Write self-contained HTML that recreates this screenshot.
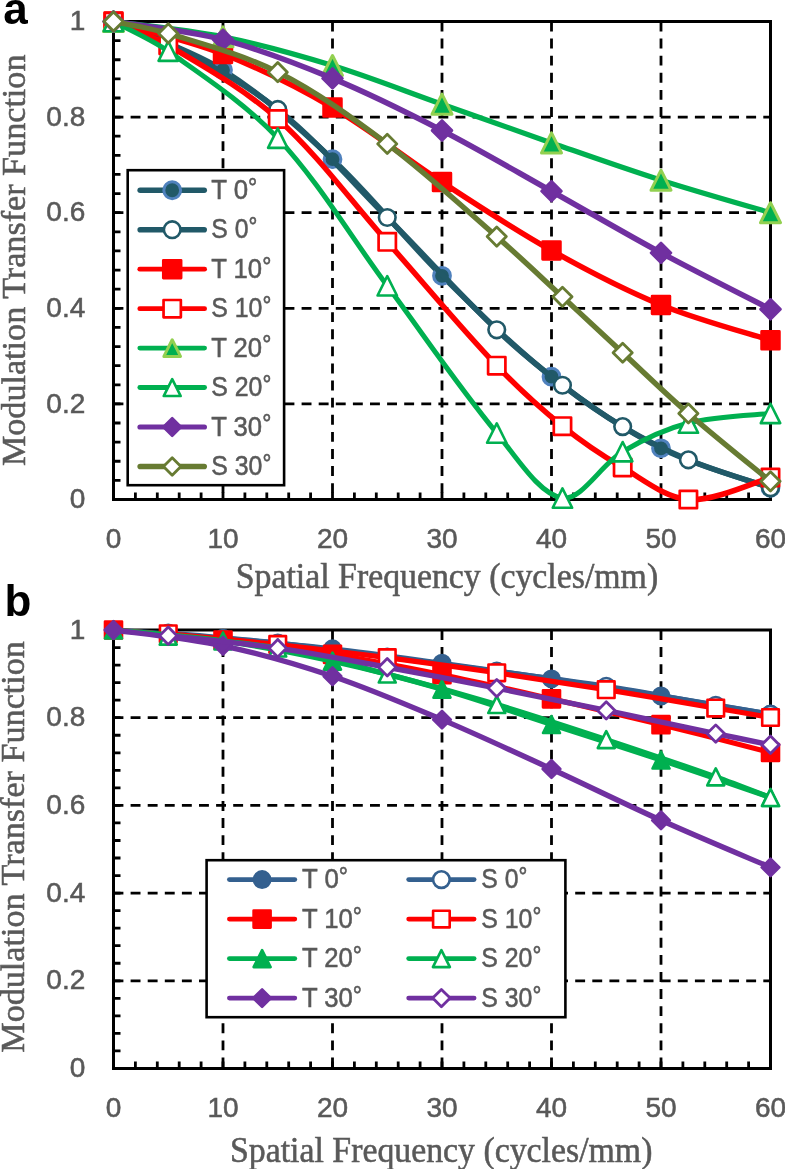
<!DOCTYPE html>
<html lang="en">
<head>
<meta charset="utf-8">
<title>Modulation Transfer Function</title>
<style>
html,body{margin:0;padding:0;background:#fff;}
body{width:785px;height:1169px;overflow:hidden;}
svg{display:block;}
</style>
</head>
<body>
<svg width="785" height="1169" viewBox="0 0 785 1169">
<rect width="785" height="1169" fill="#fff"/>
<g stroke="#000" stroke-width="2.8" stroke-dasharray="9.9 7.2" fill="none"><line x1="223" y1="21.5" x2="223" y2="499.5"/><line x1="332.5" y1="21.5" x2="332.5" y2="499.5"/><line x1="442" y1="21.5" x2="442" y2="499.5"/><line x1="551.5" y1="21.5" x2="551.5" y2="499.5"/><line x1="661" y1="21.5" x2="661" y2="499.5"/><line x1="113.5" y1="403.9" x2="770.5" y2="403.9"/><line x1="113.5" y1="308.3" x2="770.5" y2="308.3"/><line x1="113.5" y1="212.7" x2="770.5" y2="212.7"/><line x1="113.5" y1="117.1" x2="770.5" y2="117.1"/></g>
<path d="M113.5 499.5 v-7M135.4 499.5 v-7M157.3 499.5 v-7M179.2 499.5 v-7M201.1 499.5 v-7M223 499.5 v-7M244.9 499.5 v-7M266.8 499.5 v-7M288.7 499.5 v-7M310.6 499.5 v-7M332.5 499.5 v-7M354.4 499.5 v-7M376.3 499.5 v-7M398.2 499.5 v-7M420.1 499.5 v-7M442 499.5 v-7M463.9 499.5 v-7M485.8 499.5 v-7M507.7 499.5 v-7M529.6 499.5 v-7M551.5 499.5 v-7M573.4 499.5 v-7M595.3 499.5 v-7M617.2 499.5 v-7M639.1 499.5 v-7M661 499.5 v-7M682.9 499.5 v-7M704.8 499.5 v-7M726.7 499.5 v-7M748.6 499.5 v-7M770.5 499.5 v-7M113.5 499.5 h7M113.5 480.38 h7M113.5 461.26 h7M113.5 442.14 h7M113.5 423.02 h7M113.5 403.9 h7M113.5 384.78 h7M113.5 365.66 h7M113.5 346.54 h7M113.5 327.42 h7M113.5 308.3 h7M113.5 289.18 h7M113.5 270.06 h7M113.5 250.94 h7M113.5 231.82 h7M113.5 212.7 h7M113.5 193.58 h7M113.5 174.46 h7M113.5 155.34 h7M113.5 136.22 h7M113.5 117.1 h7M113.5 97.98 h7M113.5 78.86 h7M113.5 59.74 h7M113.5 40.62 h7M113.5 21.5 h7" stroke="#000" stroke-width="2.8" fill="none"/>
<rect x="113.5" y="21.5" width="657" height="478" fill="none" stroke="#000" stroke-width="3"/>
<path d="M113.5 21.5C131.75 29.59 189.5 48.96 223 70.02C262.5 94.85 298.28 127.01 332.5 159.16C371.28 195.6 404.19 238.24 442 275.8C477.19 310.74 512.65 346.05 551.5 376.65C585.65 403.56 622.36 428.75 661 448.35C695.36 465.79 752.25 481.22 770.5 487.79" fill="none" stroke="#215968" stroke-width="5.5" stroke-linecap="round" stroke-linejoin="round"/>
<circle cx="113.5" cy="21.5" r="8.4" fill="#215968" stroke="#4F81BD" stroke-width="3" stroke-linejoin="round"/><circle cx="223" cy="70.02" r="8.4" fill="#215968" stroke="#4F81BD" stroke-width="3" stroke-linejoin="round"/><circle cx="332.5" cy="159.16" r="8.4" fill="#215968" stroke="#4F81BD" stroke-width="3" stroke-linejoin="round"/><circle cx="442" cy="275.8" r="8.4" fill="#215968" stroke="#4F81BD" stroke-width="3" stroke-linejoin="round"/><circle cx="551.5" cy="376.65" r="8.4" fill="#215968" stroke="#4F81BD" stroke-width="3" stroke-linejoin="round"/><circle cx="661" cy="448.35" r="8.4" fill="#215968" stroke="#4F81BD" stroke-width="3" stroke-linejoin="round"/><circle cx="770.5" cy="487.79" r="8.4" fill="#215968" stroke="#4F81BD" stroke-width="3" stroke-linejoin="round"/>
<path d="M113.5 21.5C122.62 25.05 151.05 33.56 168.25 42.77C205.8 62.88 244.56 82.98 277.75 109.45C317.56 141.21 351.11 181.11 387.25 217.48C424.11 254.57 459.02 293.68 496.75 329.81C517.42 349.61 539.76 367.81 562.45 385.26C581.73 400.08 601.77 414.23 622.67 426.61C643.74 439.08 665.76 450.46 688.38 459.83C715.03 470.86 756.81 483.13 770.5 487.79" fill="none" stroke="#215968" stroke-width="5.5" stroke-linecap="round" stroke-linejoin="round"/>
<circle cx="113.5" cy="21.5" r="8.3" fill="#fff" stroke="#215968" stroke-width="2.6" stroke-linejoin="round"/><circle cx="168.25" cy="42.77" r="8.3" fill="#fff" stroke="#215968" stroke-width="2.6" stroke-linejoin="round"/><circle cx="277.75" cy="109.45" r="8.3" fill="#fff" stroke="#215968" stroke-width="2.6" stroke-linejoin="round"/><circle cx="387.25" cy="217.48" r="8.3" fill="#fff" stroke="#215968" stroke-width="2.6" stroke-linejoin="round"/><circle cx="496.75" cy="329.81" r="8.3" fill="#fff" stroke="#215968" stroke-width="2.6" stroke-linejoin="round"/><circle cx="562.45" cy="385.26" r="8.3" fill="#fff" stroke="#215968" stroke-width="2.6" stroke-linejoin="round"/><circle cx="622.67" cy="426.61" r="8.3" fill="#fff" stroke="#215968" stroke-width="2.6" stroke-linejoin="round"/><circle cx="688.38" cy="459.83" r="8.3" fill="#fff" stroke="#215968" stroke-width="2.6" stroke-linejoin="round"/><circle cx="770.5" cy="487.79" r="8.3" fill="#fff" stroke="#215968" stroke-width="2.6" stroke-linejoin="round"/>
<path d="M113.5 21.5C131.75 26.92 187.68 40.13 223 54C260.68 68.81 297.52 87.08 332.5 107.54C370.52 129.78 405.03 157.98 442 182.11C478.03 205.62 514.02 229.44 551.5 250.46C587.02 270.38 623.39 289.52 661 304.95C696.39 319.47 752.25 334.43 770.5 340.33" fill="none" stroke="#FF0000" stroke-width="5.5" stroke-linecap="round" stroke-linejoin="round"/>
<rect x="104.65" y="12.65" width="17.7" height="17.7" fill="#FF0000" stroke="#FF0000" stroke-width="2.8" stroke-linejoin="round"/><rect x="214.15" y="45.15" width="17.7" height="17.7" fill="#FF0000" stroke="#FF0000" stroke-width="2.8" stroke-linejoin="round"/><rect x="323.65" y="98.69" width="17.7" height="17.7" fill="#FF0000" stroke="#FF0000" stroke-width="2.8" stroke-linejoin="round"/><rect x="433.15" y="173.26" width="17.7" height="17.7" fill="#FF0000" stroke="#FF0000" stroke-width="2.8" stroke-linejoin="round"/><rect x="542.65" y="241.61" width="17.7" height="17.7" fill="#FF0000" stroke="#FF0000" stroke-width="2.8" stroke-linejoin="round"/><rect x="652.15" y="296.1" width="17.7" height="17.7" fill="#FF0000" stroke="#FF0000" stroke-width="2.8" stroke-linejoin="round"/><rect x="761.65" y="331.48" width="17.7" height="17.7" fill="#FF0000" stroke="#FF0000" stroke-width="2.8" stroke-linejoin="round"/>
<path d="M113.5 21.5C122.62 25.48 151.19 35.27 168.25 45.4C205.94 67.77 245.27 89.87 277.75 119.01C318.27 155.36 350.83 200.84 387.25 241.86C423.83 283.06 458.83 325.78 496.75 365.66C517.23 387.2 539.36 407.46 562.45 426.13C581.34 441.4 601.69 455.25 622.67 467.47C643.67 479.71 665.6 497.95 688.38 499.5C714.87 501.3 756.81 481.18 770.5 477.51" fill="none" stroke="#FF0000" stroke-width="5.5" stroke-linecap="round" stroke-linejoin="round"/>
<rect x="104.85" y="12.85" width="17.3" height="17.3" fill="#fff" stroke="#FF0000" stroke-width="2.7" stroke-linejoin="round"/><rect x="159.6" y="36.75" width="17.3" height="17.3" fill="#fff" stroke="#FF0000" stroke-width="2.7" stroke-linejoin="round"/><rect x="269.1" y="110.36" width="17.3" height="17.3" fill="#fff" stroke="#FF0000" stroke-width="2.7" stroke-linejoin="round"/><rect x="378.6" y="233.21" width="17.3" height="17.3" fill="#fff" stroke="#FF0000" stroke-width="2.7" stroke-linejoin="round"/><rect x="488.1" y="357.01" width="17.3" height="17.3" fill="#fff" stroke="#FF0000" stroke-width="2.7" stroke-linejoin="round"/><rect x="553.8" y="417.48" width="17.3" height="17.3" fill="#fff" stroke="#FF0000" stroke-width="2.7" stroke-linejoin="round"/><rect x="614.02" y="458.82" width="17.3" height="17.3" fill="#fff" stroke="#FF0000" stroke-width="2.7" stroke-linejoin="round"/><rect x="679.73" y="490.85" width="17.3" height="17.3" fill="#fff" stroke="#FF0000" stroke-width="2.7" stroke-linejoin="round"/><rect x="761.85" y="468.86" width="17.3" height="17.3" fill="#fff" stroke="#FF0000" stroke-width="2.7" stroke-linejoin="round"/>
<path d="M113.5 21.5C131.75 24.05 186.93 29.55 223 36.8C259.93 44.21 296.47 54.39 332.5 65.48C369.47 76.85 405.5 91.29 442 104.19C478.5 117.1 514.93 130.22 551.5 142.91C587.93 155.55 624.27 168.49 661 180.2C697.27 191.75 752.25 207.28 770.5 212.7" fill="none" stroke="#00B050" stroke-width="5.3" stroke-linecap="round" stroke-linejoin="round"/>
<path d="M113.5 11.5 L123.5 31.5 L103.5 31.5 Z" fill="#00B050" stroke="#92D050" stroke-width="3" stroke-linejoin="round"/><path d="M223 26.8 L233 46.8 L213 46.8 Z" fill="#00B050" stroke="#92D050" stroke-width="3" stroke-linejoin="round"/><path d="M332.5 55.48 L342.5 75.48 L322.5 75.48 Z" fill="#00B050" stroke="#92D050" stroke-width="3" stroke-linejoin="round"/><path d="M442 94.19 L452 114.19 L432 114.19 Z" fill="#00B050" stroke="#92D050" stroke-width="3" stroke-linejoin="round"/><path d="M551.5 132.91 L561.5 152.91 L541.5 152.91 Z" fill="#00B050" stroke="#92D050" stroke-width="3" stroke-linejoin="round"/><path d="M661 170.2 L671 190.2 L651 190.2 Z" fill="#00B050" stroke="#92D050" stroke-width="3" stroke-linejoin="round"/><path d="M770.5 202.7 L780.5 222.7 L760.5 222.7 Z" fill="#00B050" stroke="#92D050" stroke-width="3" stroke-linejoin="round"/>
<path d="M113.5 21.5C122.62 26.44 151.39 39.16 168.25 51.14C206.14 78.04 246.21 104.33 277.75 138.13C319.21 182.57 350.71 236.63 387.25 285.83C423.71 334.94 457.91 386.01 496.75 433.06C516.31 456.76 539.42 494.66 562.45 498.07C581.39 500.87 601.07 464.57 622.67 451.7C643.05 439.56 665.49 428.94 688.38 423.02C714.77 416.19 756.81 415.05 770.5 413.46" fill="none" stroke="#00B050" stroke-width="5" stroke-linecap="round" stroke-linejoin="round"/>
<path d="M113.5 11.8 L123.2 31.2 L103.8 31.2 Z" fill="#fff" stroke="#00B050" stroke-width="2.6" stroke-linejoin="round"/><path d="M168.25 41.44 L177.95 60.84 L158.55 60.84 Z" fill="#fff" stroke="#00B050" stroke-width="2.6" stroke-linejoin="round"/><path d="M277.75 128.43 L287.45 147.83 L268.05 147.83 Z" fill="#fff" stroke="#00B050" stroke-width="2.6" stroke-linejoin="round"/><path d="M387.25 276.13 L396.95 295.53 L377.55 295.53 Z" fill="#fff" stroke="#00B050" stroke-width="2.6" stroke-linejoin="round"/><path d="M496.75 423.36 L506.45 442.76 L487.05 442.76 Z" fill="#fff" stroke="#00B050" stroke-width="2.6" stroke-linejoin="round"/><path d="M562.45 488.37 L572.15 507.77 L552.75 507.77 Z" fill="#fff" stroke="#00B050" stroke-width="2.6" stroke-linejoin="round"/><path d="M622.67 442 L632.38 461.4 L612.97 461.4 Z" fill="#fff" stroke="#00B050" stroke-width="2.6" stroke-linejoin="round"/><path d="M688.38 413.32 L698.08 432.72 L678.67 432.72 Z" fill="#fff" stroke="#00B050" stroke-width="2.6" stroke-linejoin="round"/><path d="M770.5 403.76 L780.2 423.16 L760.8 423.16 Z" fill="#fff" stroke="#00B050" stroke-width="2.6" stroke-linejoin="round"/>
<path d="M113.5 21.5C131.75 24.53 187.33 30.4 223 39.66C260.33 49.36 296.79 63.57 332.5 78.38C369.79 93.85 406.08 111.98 442 130.48C479.08 149.59 515.07 170.83 551.5 191.19C588.07 211.62 624.13 232.98 661 252.85C697.13 272.33 752.25 299.86 770.5 309.26" fill="none" stroke="#7030A0" stroke-width="5.6" stroke-linecap="round" stroke-linejoin="round"/>
<path d="M113.5 11.5 L123.5 21.5 L113.5 31.5 L103.5 21.5 Z" fill="#7030A0" stroke="#7030A0" stroke-width="2.6" stroke-linejoin="round"/><path d="M223 29.66 L233 39.66 L223 49.66 L213 39.66 Z" fill="#7030A0" stroke="#7030A0" stroke-width="2.6" stroke-linejoin="round"/><path d="M332.5 68.38 L342.5 78.38 L332.5 88.38 L322.5 78.38 Z" fill="#7030A0" stroke="#7030A0" stroke-width="2.6" stroke-linejoin="round"/><path d="M442 120.48 L452 130.48 L442 140.48 L432 130.48 Z" fill="#7030A0" stroke="#7030A0" stroke-width="2.6" stroke-linejoin="round"/><path d="M551.5 181.19 L561.5 191.19 L551.5 201.19 L541.5 191.19 Z" fill="#7030A0" stroke="#7030A0" stroke-width="2.6" stroke-linejoin="round"/><path d="M661 242.85 L671 252.85 L661 262.85 L651 252.85 Z" fill="#7030A0" stroke="#7030A0" stroke-width="2.6" stroke-linejoin="round"/><path d="M770.5 299.26 L780.5 309.26 L770.5 319.26 L760.5 309.26 Z" fill="#7030A0" stroke="#7030A0" stroke-width="2.6" stroke-linejoin="round"/>
<path d="M113.5 21.5C122.62 23.49 150.43 27.95 168.25 33.45C205.18 44.84 243.43 54.86 277.75 72.17C316.43 91.67 352.43 117.72 387.25 143.87C425.43 172.53 460.73 205.15 496.75 236.6C519.13 256.14 540.61 276.68 562.45 296.83C582.59 315.4 602.58 334.14 622.67 352.75C644.55 373.02 665.89 393.9 688.38 413.46C715.16 436.76 756.81 470.02 770.5 481.34" fill="none" stroke="#677B32" stroke-width="5.4" stroke-linecap="round" stroke-linejoin="round"/>
<path d="M113.5 11.9 L123.1 21.5 L113.5 31.1 L103.9 21.5 Z" fill="#fff" stroke="#677B32" stroke-width="2.8" stroke-linejoin="round"/><path d="M168.25 23.85 L177.85 33.45 L168.25 43.05 L158.65 33.45 Z" fill="#fff" stroke="#677B32" stroke-width="2.8" stroke-linejoin="round"/><path d="M277.75 62.57 L287.35 72.17 L277.75 81.77 L268.15 72.17 Z" fill="#fff" stroke="#677B32" stroke-width="2.8" stroke-linejoin="round"/><path d="M387.25 134.27 L396.85 143.87 L387.25 153.47 L377.65 143.87 Z" fill="#fff" stroke="#677B32" stroke-width="2.8" stroke-linejoin="round"/><path d="M496.75 227 L506.35 236.6 L496.75 246.2 L487.15 236.6 Z" fill="#fff" stroke="#677B32" stroke-width="2.8" stroke-linejoin="round"/><path d="M562.45 287.23 L572.05 296.83 L562.45 306.43 L552.85 296.83 Z" fill="#fff" stroke="#677B32" stroke-width="2.8" stroke-linejoin="round"/><path d="M622.67 343.15 L632.27 352.75 L622.67 362.35 L613.07 352.75 Z" fill="#fff" stroke="#677B32" stroke-width="2.8" stroke-linejoin="round"/><path d="M688.38 403.86 L697.98 413.46 L688.38 423.06 L678.77 413.46 Z" fill="#fff" stroke="#677B32" stroke-width="2.8" stroke-linejoin="round"/><path d="M770.5 471.74 L780.1 481.34 L770.5 490.94 L760.9 481.34 Z" fill="#fff" stroke="#677B32" stroke-width="2.8" stroke-linejoin="round"/>
<rect x="127.7" y="170.2" width="156.4" height="315" fill="#fff" stroke="#000" stroke-width="2.6"/>
<path d="M140.2 190.25 H204.2" stroke="#215968" stroke-width="5.6" stroke-linecap="round" fill="none"/>
<circle cx="172.2" cy="190.25" r="8.4" fill="#215968" stroke="#4F81BD" stroke-width="3" stroke-linejoin="round"/>
<text x="211.3" y="198.85" font-family="'Liberation Sans', Arial, sans-serif" font-size="28" fill="#595959" stroke="#595959" stroke-width="0.55" textLength="46" lengthAdjust="spacingAndGlyphs">T 0<tspan dy="-3.2" font-size="25">°</tspan></text>
<path d="M140.2 229.71 H204.2" stroke="#215968" stroke-width="5.6" stroke-linecap="round" fill="none"/>
<circle cx="172.2" cy="229.71" r="8.3" fill="#fff" stroke="#215968" stroke-width="2.6" stroke-linejoin="round"/>
<text x="211.3" y="238.31" font-family="'Liberation Sans', Arial, sans-serif" font-size="28" fill="#595959" stroke="#595959" stroke-width="0.55" textLength="46" lengthAdjust="spacingAndGlyphs">S 0<tspan dy="-3.2" font-size="25">°</tspan></text>
<path d="M139.75 269.17 H204.65" stroke="#FF0000" stroke-width="4.7" stroke-linecap="round" fill="none"/>
<rect x="163.35" y="260.32" width="17.7" height="17.7" fill="#FF0000" stroke="#FF0000" stroke-width="2.8" stroke-linejoin="round"/>
<text x="211.3" y="277.77" font-family="'Liberation Sans', Arial, sans-serif" font-size="28" fill="#595959" stroke="#595959" stroke-width="0.55" textLength="60" lengthAdjust="spacingAndGlyphs">T 10<tspan dy="-3.2" font-size="25">°</tspan></text>
<path d="M139.75 308.63 H204.65" stroke="#FF0000" stroke-width="4.7" stroke-linecap="round" fill="none"/>
<rect x="163.55" y="299.98" width="17.3" height="17.3" fill="#fff" stroke="#FF0000" stroke-width="2.7" stroke-linejoin="round"/>
<text x="211.3" y="317.23" font-family="'Liberation Sans', Arial, sans-serif" font-size="28" fill="#595959" stroke="#595959" stroke-width="0.55" textLength="60" lengthAdjust="spacingAndGlyphs">S 10<tspan dy="-3.2" font-size="25">°</tspan></text>
<path d="M139.85 348.09 H204.55" stroke="#00B050" stroke-width="4.9" stroke-linecap="round" fill="none"/>
<path d="M172.2 339.79 L180.5 356.39 L163.9 356.39 Z" fill="#00B050" stroke="#92D050" stroke-width="3" stroke-linejoin="round"/>
<text x="211.3" y="356.69" font-family="'Liberation Sans', Arial, sans-serif" font-size="28" fill="#595959" stroke="#595959" stroke-width="0.55" textLength="60" lengthAdjust="spacingAndGlyphs">T 20<tspan dy="-3.2" font-size="25">°</tspan></text>
<path d="M139.85 387.55 H204.55" stroke="#00B050" stroke-width="4.9" stroke-linecap="round" fill="none"/>
<path d="M172.2 379.05 L180.7 396.05 L163.7 396.05 Z" fill="#fff" stroke="#00B050" stroke-width="2.6" stroke-linejoin="round"/>
<text x="211.3" y="396.15" font-family="'Liberation Sans', Arial, sans-serif" font-size="28" fill="#595959" stroke="#595959" stroke-width="0.55" textLength="60" lengthAdjust="spacingAndGlyphs">S 20<tspan dy="-3.2" font-size="25">°</tspan></text>
<path d="M140 427.01 H204.4" stroke="#7030A0" stroke-width="5.2" stroke-linecap="round" fill="none"/>
<path d="M172.2 418.21 L181 427.01 L172.2 435.81 L163.4 427.01 Z" fill="#7030A0" stroke="#7030A0" stroke-width="2.6" stroke-linejoin="round"/>
<text x="211.3" y="435.61" font-family="'Liberation Sans', Arial, sans-serif" font-size="28" fill="#595959" stroke="#595959" stroke-width="0.55" textLength="60" lengthAdjust="spacingAndGlyphs">T 30<tspan dy="-3.2" font-size="25">°</tspan></text>
<path d="M140.2 466.47 H204.2" stroke="#677B32" stroke-width="5.6" stroke-linecap="round" fill="none"/>
<path d="M172.2 457.77 L180.9 466.47 L172.2 475.17 L163.5 466.47 Z" fill="#fff" stroke="#677B32" stroke-width="2.8" stroke-linejoin="round"/>
<text x="211.3" y="475.07" font-family="'Liberation Sans', Arial, sans-serif" font-size="28" fill="#595959" stroke="#595959" stroke-width="0.55" textLength="60" lengthAdjust="spacingAndGlyphs">S 30<tspan dy="-3.2" font-size="25">°</tspan></text>
<g font-family="'Liberation Sans', Arial, sans-serif" font-size="28" fill="#595959" stroke="#595959" stroke-width="0.55"><text x="113.5" y="547.5" text-anchor="middle">0</text><text x="223" y="547.5" text-anchor="middle">10</text><text x="332.5" y="547.5" text-anchor="middle">20</text><text x="442" y="547.5" text-anchor="middle">30</text><text x="551.5" y="547.5" text-anchor="middle">40</text><text x="661" y="547.5" text-anchor="middle">50</text><text x="770.5" y="547.5" text-anchor="middle">60</text><text x="85.3" y="508.1" text-anchor="end">0</text><text x="85.3" y="412.5" text-anchor="end">0.2</text><text x="85.3" y="316.9" text-anchor="end">0.4</text><text x="85.3" y="221.3" text-anchor="end">0.6</text><text x="85.3" y="125.7" text-anchor="end">0.8</text><text x="85.3" y="30.1" text-anchor="end">1</text></g>
<text x="446.95" y="588.3" text-anchor="middle" font-family="'Liberation Serif', 'Times New Roman', serif" font-size="35.2" fill="#595959" stroke="#595959" stroke-width="0.55" textLength="422.4" lengthAdjust="spacingAndGlyphs">Spatial Frequency (cycles/mm)</text>
<text transform="translate(25.1 260.3) rotate(-90)" text-anchor="middle" font-family="'Liberation Serif', 'Times New Roman', serif" font-size="34.6" fill="#595959" stroke="#595959" stroke-width="0.55" textLength="411.6" lengthAdjust="spacingAndGlyphs">Modulation Transfer Function</text>
<g stroke="#000" stroke-width="2.8" stroke-dasharray="9.9 7.2" fill="none"><line x1="223" y1="630" x2="223" y2="1068.5"/><line x1="332.5" y1="630" x2="332.5" y2="1068.5"/><line x1="442" y1="630" x2="442" y2="1068.5"/><line x1="551.5" y1="630" x2="551.5" y2="1068.5"/><line x1="661" y1="630" x2="661" y2="1068.5"/><line x1="113.5" y1="980.8" x2="770.5" y2="980.8"/><line x1="113.5" y1="893.1" x2="770.5" y2="893.1"/><line x1="113.5" y1="805.4" x2="770.5" y2="805.4"/><line x1="113.5" y1="717.7" x2="770.5" y2="717.7"/></g>
<path d="M113.5 1068.5 v-7M135.4 1068.5 v-7M157.3 1068.5 v-7M179.2 1068.5 v-7M201.1 1068.5 v-7M223 1068.5 v-7M244.9 1068.5 v-7M266.8 1068.5 v-7M288.7 1068.5 v-7M310.6 1068.5 v-7M332.5 1068.5 v-7M354.4 1068.5 v-7M376.3 1068.5 v-7M398.2 1068.5 v-7M420.1 1068.5 v-7M442 1068.5 v-7M463.9 1068.5 v-7M485.8 1068.5 v-7M507.7 1068.5 v-7M529.6 1068.5 v-7M551.5 1068.5 v-7M573.4 1068.5 v-7M595.3 1068.5 v-7M617.2 1068.5 v-7M639.1 1068.5 v-7M661 1068.5 v-7M682.9 1068.5 v-7M704.8 1068.5 v-7M726.7 1068.5 v-7M748.6 1068.5 v-7M770.5 1068.5 v-7M113.5 1068.5 h7M113.5 1050.96 h7M113.5 1033.42 h7M113.5 1015.88 h7M113.5 998.34 h7M113.5 980.8 h7M113.5 963.26 h7M113.5 945.72 h7M113.5 928.18 h7M113.5 910.64 h7M113.5 893.1 h7M113.5 875.56 h7M113.5 858.02 h7M113.5 840.48 h7M113.5 822.94 h7M113.5 805.4 h7M113.5 787.86 h7M113.5 770.32 h7M113.5 752.78 h7M113.5 735.24 h7M113.5 717.7 h7M113.5 700.16 h7M113.5 682.62 h7M113.5 665.08 h7M113.5 647.54 h7M113.5 630 h7" stroke="#000" stroke-width="2.8" fill="none"/>
<rect x="113.5" y="630" width="657" height="438.5" fill="none" stroke="#000" stroke-width="3"/>
<path d="M113.5 630C131.75 631.39 186.53 635.19 223 638.33C259.53 641.48 296.07 644.7 332.5 648.86C369.07 653.03 405.52 658.32 442 663.33C478.52 668.34 515.04 673.47 551.5 678.89C588.04 684.33 624.53 690.03 661 695.91C697.53 701.8 752.25 711.14 770.5 714.19" fill="none" stroke="#34608F" stroke-width="5.2" stroke-linecap="round" stroke-linejoin="round"/>
<circle cx="113.5" cy="630" r="8.5" fill="#34608F" stroke="#34608F" stroke-width="2" stroke-linejoin="round"/><circle cx="223" cy="638.33" r="8.5" fill="#34608F" stroke="#34608F" stroke-width="2" stroke-linejoin="round"/><circle cx="332.5" cy="648.86" r="8.5" fill="#34608F" stroke="#34608F" stroke-width="2" stroke-linejoin="round"/><circle cx="442" cy="663.33" r="8.5" fill="#34608F" stroke="#34608F" stroke-width="2" stroke-linejoin="round"/><circle cx="551.5" cy="678.89" r="8.5" fill="#34608F" stroke="#34608F" stroke-width="2" stroke-linejoin="round"/><circle cx="661" cy="695.91" r="8.5" fill="#34608F" stroke="#34608F" stroke-width="2" stroke-linejoin="round"/><circle cx="770.5" cy="714.19" r="8.5" fill="#34608F" stroke="#34608F" stroke-width="2" stroke-linejoin="round"/>
<path d="M168.25 633.07C186.5 634.75 241.32 639.14 277.75 643.15C314.32 647.18 350.75 652.51 387.25 657.19C423.75 661.86 460.27 666.36 496.75 671.22C533.27 676.08 569.85 680.68 606.25 686.35C642.85 692.04 679.23 699.1 715.75 705.29C733.98 708.38 761.38 712.71 770.5 714.19" fill="none" stroke="#34608F" stroke-width="5.2" stroke-linecap="round" stroke-linejoin="round"/>
<circle cx="168.25" cy="633.07" r="8.3" fill="#fff" stroke="#34608F" stroke-width="2.6" stroke-linejoin="round"/><circle cx="277.75" cy="643.15" r="8.3" fill="#fff" stroke="#34608F" stroke-width="2.6" stroke-linejoin="round"/><circle cx="387.25" cy="657.19" r="8.3" fill="#fff" stroke="#34608F" stroke-width="2.6" stroke-linejoin="round"/><circle cx="496.75" cy="671.22" r="8.3" fill="#fff" stroke="#34608F" stroke-width="2.6" stroke-linejoin="round"/><circle cx="606.25" cy="686.35" r="8.3" fill="#fff" stroke="#34608F" stroke-width="2.6" stroke-linejoin="round"/><circle cx="715.75" cy="705.29" r="8.3" fill="#fff" stroke="#34608F" stroke-width="2.6" stroke-linejoin="round"/><circle cx="770.5" cy="714.19" r="8.3" fill="#fff" stroke="#34608F" stroke-width="2.6" stroke-linejoin="round"/>
<path d="M113.5 630C131.75 631.68 186.58 636.04 223 640.09C259.58 644.15 296.16 648.59 332.5 654.34C369.16 660.14 405.62 667.33 442 674.73C478.62 682.17 515.06 690.54 551.5 698.84C588.06 707.18 624.58 715.7 661 724.63C697.58 733.59 752.25 747.87 770.5 752.52" fill="none" stroke="#FF0000" stroke-width="5.2" stroke-linecap="round" stroke-linejoin="round"/>
<rect x="105" y="621.5" width="17" height="17" fill="#FF0000" stroke="#FF0000" stroke-width="2.6" stroke-linejoin="round"/><rect x="214.5" y="631.59" width="17" height="17" fill="#FF0000" stroke="#FF0000" stroke-width="2.6" stroke-linejoin="round"/><rect x="324" y="645.84" width="17" height="17" fill="#FF0000" stroke="#FF0000" stroke-width="2.6" stroke-linejoin="round"/><rect x="433.5" y="666.23" width="17" height="17" fill="#FF0000" stroke="#FF0000" stroke-width="2.6" stroke-linejoin="round"/><rect x="543" y="690.34" width="17" height="17" fill="#FF0000" stroke="#FF0000" stroke-width="2.6" stroke-linejoin="round"/><rect x="652.5" y="716.13" width="17" height="17" fill="#FF0000" stroke="#FF0000" stroke-width="2.6" stroke-linejoin="round"/><rect x="762" y="744.02" width="17" height="17" fill="#FF0000" stroke="#FF0000" stroke-width="2.6" stroke-linejoin="round"/>
<path d="M168.25 633.73C186.5 635.52 241.29 640.49 277.75 644.47C314.29 648.46 350.79 652.91 387.25 657.63C423.79 662.35 460.29 667.47 496.75 672.8C533.29 678.14 569.79 683.76 606.25 689.64C642.79 695.53 679.26 701.91 715.75 708.1C734.01 711.19 761.38 715.92 770.5 717.48" fill="none" stroke="#FF0000" stroke-width="5.2" stroke-linecap="round" stroke-linejoin="round"/>
<rect x="159.95" y="625.43" width="16.6" height="16.6" fill="#fff" stroke="#FF0000" stroke-width="2.6" stroke-linejoin="round"/><rect x="269.45" y="636.17" width="16.6" height="16.6" fill="#fff" stroke="#FF0000" stroke-width="2.6" stroke-linejoin="round"/><rect x="378.95" y="649.33" width="16.6" height="16.6" fill="#fff" stroke="#FF0000" stroke-width="2.6" stroke-linejoin="round"/><rect x="488.45" y="664.5" width="16.6" height="16.6" fill="#fff" stroke="#FF0000" stroke-width="2.6" stroke-linejoin="round"/><rect x="597.95" y="681.34" width="16.6" height="16.6" fill="#fff" stroke="#FF0000" stroke-width="2.6" stroke-linejoin="round"/><rect x="707.45" y="699.8" width="16.6" height="16.6" fill="#fff" stroke="#FF0000" stroke-width="2.6" stroke-linejoin="round"/><rect x="762.2" y="709.18" width="16.6" height="16.6" fill="#fff" stroke="#FF0000" stroke-width="2.6" stroke-linejoin="round"/>
<path d="M113.5 630C131.75 631.83 186.71 635.8 223 640.96C259.71 646.18 296.28 653.16 332.5 661.13C369.28 669.23 405.82 678.73 442 689.2C478.82 699.85 515.01 712.7 551.5 724.5C588.01 736.3 624.6 747.88 661 760.02C697.6 772.22 752.25 791.26 770.5 797.51" fill="none" stroke="#00B050" stroke-width="5.2" stroke-linecap="round" stroke-linejoin="round"/>
<path d="M113.5 621.5 L122 638.5 L105 638.5 Z" fill="#00B050" stroke="#00B050" stroke-width="2.6" stroke-linejoin="round"/><path d="M223 632.46 L231.5 649.46 L214.5 649.46 Z" fill="#00B050" stroke="#00B050" stroke-width="2.6" stroke-linejoin="round"/><path d="M332.5 652.63 L341 669.63 L324 669.63 Z" fill="#00B050" stroke="#00B050" stroke-width="2.6" stroke-linejoin="round"/><path d="M442 680.7 L450.5 697.7 L433.5 697.7 Z" fill="#00B050" stroke="#00B050" stroke-width="2.6" stroke-linejoin="round"/><path d="M551.5 716 L560 733 L543 733 Z" fill="#00B050" stroke="#00B050" stroke-width="2.6" stroke-linejoin="round"/><path d="M661 751.52 L669.5 768.52 L652.5 768.52 Z" fill="#00B050" stroke="#00B050" stroke-width="2.6" stroke-linejoin="round"/><path d="M770.5 789.01 L779 806.01 L762 806.01 Z" fill="#00B050" stroke="#00B050" stroke-width="2.6" stroke-linejoin="round"/>
<path d="M168.25 636.14C186.5 638.11 241.65 641.73 277.75 647.98C314.65 654.37 350.93 664.69 387.25 674.07C423.93 683.54 460.46 693.68 496.75 704.55C533.46 715.53 569.86 727.6 606.25 739.62C642.86 751.72 679.39 764.08 715.75 776.9C734.14 783.38 761.38 794.07 770.5 797.51" fill="none" stroke="#00B050" stroke-width="5.2" stroke-linecap="round" stroke-linejoin="round"/>
<path d="M168.25 627.64 L176.75 644.64 L159.75 644.64 Z" fill="#fff" stroke="#00B050" stroke-width="2.6" stroke-linejoin="round"/><path d="M277.75 639.48 L286.25 656.48 L269.25 656.48 Z" fill="#fff" stroke="#00B050" stroke-width="2.6" stroke-linejoin="round"/><path d="M387.25 665.57 L395.75 682.57 L378.75 682.57 Z" fill="#fff" stroke="#00B050" stroke-width="2.6" stroke-linejoin="round"/><path d="M496.75 696.05 L505.25 713.05 L488.25 713.05 Z" fill="#fff" stroke="#00B050" stroke-width="2.6" stroke-linejoin="round"/><path d="M606.25 731.12 L614.75 748.12 L597.75 748.12 Z" fill="#fff" stroke="#00B050" stroke-width="2.6" stroke-linejoin="round"/><path d="M715.75 768.4 L724.25 785.4 L707.25 785.4 Z" fill="#fff" stroke="#00B050" stroke-width="2.6" stroke-linejoin="round"/><path d="M770.5 789.01 L779 806.01 L762 806.01 Z" fill="#fff" stroke="#00B050" stroke-width="2.6" stroke-linejoin="round"/>
<path d="M113.5 630C131.75 632.63 186.99 638.19 223 645.79C259.99 653.59 296.65 664.13 332.5 676.22C369.65 688.75 405.86 704.32 442 719.63C478.86 735.25 515.12 752.28 551.5 769C588.12 785.84 624.24 803.79 661 820.31C697.24 836.59 752.25 859.55 770.5 867.4" fill="none" stroke="#7030A0" stroke-width="5.4" stroke-linecap="round" stroke-linejoin="round"/>
<path d="M113.5 621.2 L122.3 630 L113.5 638.8 L104.7 630 Z" fill="#7030A0" stroke="#7030A0" stroke-width="2.6" stroke-linejoin="round"/><path d="M223 636.99 L231.8 645.79 L223 654.59 L214.2 645.79 Z" fill="#7030A0" stroke="#7030A0" stroke-width="2.6" stroke-linejoin="round"/><path d="M332.5 667.42 L341.3 676.22 L332.5 685.02 L323.7 676.22 Z" fill="#7030A0" stroke="#7030A0" stroke-width="2.6" stroke-linejoin="round"/><path d="M442 710.83 L450.8 719.63 L442 728.43 L433.2 719.63 Z" fill="#7030A0" stroke="#7030A0" stroke-width="2.6" stroke-linejoin="round"/><path d="M551.5 760.2 L560.3 769 L551.5 777.8 L542.7 769 Z" fill="#7030A0" stroke="#7030A0" stroke-width="2.6" stroke-linejoin="round"/><path d="M661 811.51 L669.8 820.31 L661 829.11 L652.2 820.31 Z" fill="#7030A0" stroke="#7030A0" stroke-width="2.6" stroke-linejoin="round"/><path d="M770.5 858.6 L779.3 867.4 L770.5 876.2 L761.7 867.4 Z" fill="#7030A0" stroke="#7030A0" stroke-width="2.6" stroke-linejoin="round"/>
<path d="M168.25 635.7C186.5 637.78 241.4 642.96 277.75 648.2C314.4 653.48 350.8 660.63 387.25 667.27C423.8 673.93 460.3 680.92 496.75 688.1C533.3 695.3 569.78 702.85 606.25 710.42C642.78 718.01 679.23 725.93 715.75 733.57C733.98 737.39 761.38 742.93 770.5 744.8" fill="none" stroke="#7030A0" stroke-width="5.4" stroke-linecap="round" stroke-linejoin="round"/>
<path d="M168.25 627 L176.95 635.7 L168.25 644.4 L159.55 635.7 Z" fill="#fff" stroke="#7030A0" stroke-width="2.8" stroke-linejoin="round"/><path d="M277.75 639.5 L286.45 648.2 L277.75 656.9 L269.05 648.2 Z" fill="#fff" stroke="#7030A0" stroke-width="2.8" stroke-linejoin="round"/><path d="M387.25 658.57 L395.95 667.27 L387.25 675.97 L378.55 667.27 Z" fill="#fff" stroke="#7030A0" stroke-width="2.8" stroke-linejoin="round"/><path d="M496.75 679.4 L505.45 688.1 L496.75 696.8 L488.05 688.1 Z" fill="#fff" stroke="#7030A0" stroke-width="2.8" stroke-linejoin="round"/><path d="M606.25 701.72 L614.95 710.42 L606.25 719.12 L597.55 710.42 Z" fill="#fff" stroke="#7030A0" stroke-width="2.8" stroke-linejoin="round"/><path d="M715.75 724.87 L724.45 733.57 L715.75 742.27 L707.05 733.57 Z" fill="#fff" stroke="#7030A0" stroke-width="2.8" stroke-linejoin="round"/><path d="M770.5 736.1 L779.2 744.8 L770.5 753.5 L761.8 744.8 Z" fill="#fff" stroke="#7030A0" stroke-width="2.8" stroke-linejoin="round"/>
<rect x="206.6" y="860.2" width="358.8" height="157" fill="#fff" stroke="#000" stroke-width="2.6"/>
<path d="M229.45 879.6 H294.75" stroke="#34608F" stroke-width="4.9" stroke-linecap="round" fill="none"/>
<circle cx="262.1" cy="879.6" r="8.5" fill="#34608F" stroke="#34608F" stroke-width="2" stroke-linejoin="round"/>
<text x="302" y="888.2" font-family="'Liberation Sans', Arial, sans-serif" font-size="28" fill="#595959" stroke="#595959" stroke-width="0.55" textLength="46" lengthAdjust="spacingAndGlyphs">T 0<tspan dy="-3.2" font-size="25">°</tspan></text>
<path d="M408.75 879.6 H474.05" stroke="#34608F" stroke-width="4.9" stroke-linecap="round" fill="none"/>
<circle cx="441.4" cy="879.6" r="8.3" fill="#fff" stroke="#34608F" stroke-width="2.6" stroke-linejoin="round"/>
<text x="481.3" y="888.2" font-family="'Liberation Sans', Arial, sans-serif" font-size="28" fill="#595959" stroke="#595959" stroke-width="0.55" textLength="46" lengthAdjust="spacingAndGlyphs">S 0<tspan dy="-3.2" font-size="25">°</tspan></text>
<path d="M229.45 919.1 H294.75" stroke="#FF0000" stroke-width="4.9" stroke-linecap="round" fill="none"/>
<rect x="253.6" y="910.6" width="17" height="17" fill="#FF0000" stroke="#FF0000" stroke-width="2.6" stroke-linejoin="round"/>
<text x="302" y="927.7" font-family="'Liberation Sans', Arial, sans-serif" font-size="28" fill="#595959" stroke="#595959" stroke-width="0.55" textLength="60" lengthAdjust="spacingAndGlyphs">T 10<tspan dy="-3.2" font-size="25">°</tspan></text>
<path d="M408.75 919.1 H474.05" stroke="#FF0000" stroke-width="4.9" stroke-linecap="round" fill="none"/>
<rect x="433.1" y="910.8" width="16.6" height="16.6" fill="#fff" stroke="#FF0000" stroke-width="2.6" stroke-linejoin="round"/>
<text x="481.3" y="927.7" font-family="'Liberation Sans', Arial, sans-serif" font-size="28" fill="#595959" stroke="#595959" stroke-width="0.55" textLength="60" lengthAdjust="spacingAndGlyphs">S 10<tspan dy="-3.2" font-size="25">°</tspan></text>
<path d="M229.45 958.6 H294.75" stroke="#00B050" stroke-width="4.9" stroke-linecap="round" fill="none"/>
<path d="M262.1 950.1 L270.6 967.1 L253.6 967.1 Z" fill="#00B050" stroke="#00B050" stroke-width="2.6" stroke-linejoin="round"/>
<text x="302" y="967.2" font-family="'Liberation Sans', Arial, sans-serif" font-size="28" fill="#595959" stroke="#595959" stroke-width="0.55" textLength="60" lengthAdjust="spacingAndGlyphs">T 20<tspan dy="-3.2" font-size="25">°</tspan></text>
<path d="M408.75 958.6 H474.05" stroke="#00B050" stroke-width="4.9" stroke-linecap="round" fill="none"/>
<path d="M441.4 950.1 L449.9 967.1 L432.9 967.1 Z" fill="#fff" stroke="#00B050" stroke-width="2.6" stroke-linejoin="round"/>
<text x="481.3" y="967.2" font-family="'Liberation Sans', Arial, sans-serif" font-size="28" fill="#595959" stroke="#595959" stroke-width="0.55" textLength="60" lengthAdjust="spacingAndGlyphs">S 20<tspan dy="-3.2" font-size="25">°</tspan></text>
<path d="M229.45 998.1 H294.75" stroke="#7030A0" stroke-width="4.9" stroke-linecap="round" fill="none"/>
<path d="M262.1 989.3 L270.9 998.1 L262.1 1006.9 L253.3 998.1 Z" fill="#7030A0" stroke="#7030A0" stroke-width="2.6" stroke-linejoin="round"/>
<text x="302" y="1006.7" font-family="'Liberation Sans', Arial, sans-serif" font-size="28" fill="#595959" stroke="#595959" stroke-width="0.55" textLength="60" lengthAdjust="spacingAndGlyphs">T 30<tspan dy="-3.2" font-size="25">°</tspan></text>
<path d="M408.75 998.1 H474.05" stroke="#7030A0" stroke-width="4.9" stroke-linecap="round" fill="none"/>
<path d="M441.4 989.4 L450.1 998.1 L441.4 1006.8 L432.7 998.1 Z" fill="#fff" stroke="#7030A0" stroke-width="2.8" stroke-linejoin="round"/>
<text x="481.3" y="1006.7" font-family="'Liberation Sans', Arial, sans-serif" font-size="28" fill="#595959" stroke="#595959" stroke-width="0.55" textLength="60" lengthAdjust="spacingAndGlyphs">S 30<tspan dy="-3.2" font-size="25">°</tspan></text>
<g font-family="'Liberation Sans', Arial, sans-serif" font-size="28" fill="#595959" stroke="#595959" stroke-width="0.55"><text x="113.5" y="1116.5" text-anchor="middle">0</text><text x="223" y="1116.5" text-anchor="middle">10</text><text x="332.5" y="1116.5" text-anchor="middle">20</text><text x="442" y="1116.5" text-anchor="middle">30</text><text x="551.5" y="1116.5" text-anchor="middle">40</text><text x="661" y="1116.5" text-anchor="middle">50</text><text x="770.5" y="1116.5" text-anchor="middle">60</text><text x="85.3" y="1077.1" text-anchor="end">0</text><text x="85.3" y="989.4" text-anchor="end">0.2</text><text x="85.3" y="901.7" text-anchor="end">0.4</text><text x="85.3" y="814" text-anchor="end">0.6</text><text x="85.3" y="726.3" text-anchor="end">0.8</text><text x="85.3" y="638.6" text-anchor="end">1</text></g>
<text x="441.2" y="1161.8" text-anchor="middle" font-family="'Liberation Serif', 'Times New Roman', serif" font-size="35.2" fill="#595959" stroke="#595959" stroke-width="0.55" textLength="422.4" lengthAdjust="spacingAndGlyphs">Spatial Frequency (cycles/mm)</text>
<text transform="translate(24 846.9) rotate(-90)" text-anchor="middle" font-family="'Liberation Serif', 'Times New Roman', serif" font-size="34.6" fill="#595959" stroke="#595959" stroke-width="0.55" textLength="411.6" lengthAdjust="spacingAndGlyphs">Modulation Transfer Function</text>
<text x="3.2" y="24.3" font-family="'Liberation Sans', Arial, sans-serif" font-weight="bold" font-size="44" fill="#000">a</text>
<text x="4.4" y="615.7" font-family="'Liberation Sans', Arial, sans-serif" font-weight="bold" font-size="44" fill="#000">b</text>
</svg>
</body>
</html>
